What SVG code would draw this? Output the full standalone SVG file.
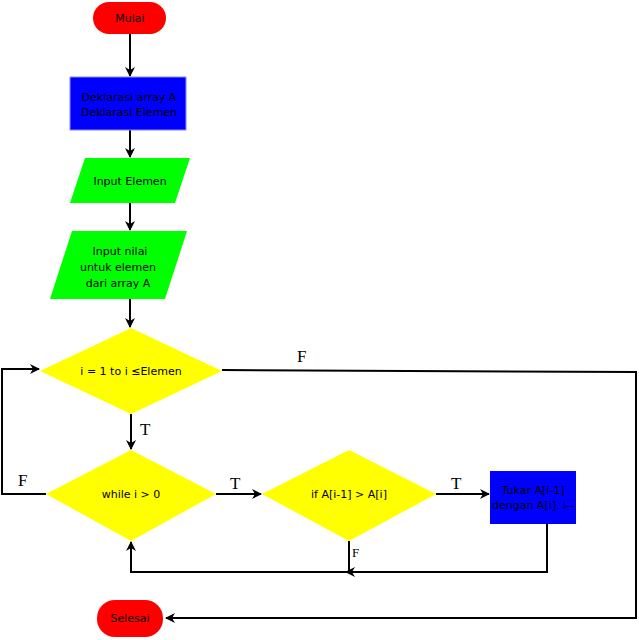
<svg xmlns="http://www.w3.org/2000/svg" width="639" height="640" viewBox="0 0 639 640">
<style>
.t{font-family:"DejaVu Sans",sans-serif;font-size:11px;text-anchor:middle;fill:#000}
.l{font-family:"Liberation Serif",serif;font-size:17px;fill:#000}
.c{fill:none;stroke:#000;stroke-width:2}
</style>
<defs><marker id="a" markerWidth="10" markerHeight="10" refX="9" refY="5" orient="auto" markerUnits="userSpaceOnUse"><path d="M0,0 L10,5 L0,10 L3,5 Z" fill="#000"/></marker></defs>
<rect width="639" height="640" fill="#fff"/>
<g id="connectors">
<path class="c" d="M130,34 V76" marker-end="url(#a)"/>
<path class="c" d="M130,130 V157" marker-end="url(#a)"/>
<path class="c" d="M130,203 V230" marker-end="url(#a)"/>
<path class="c" d="M130,299 V327" marker-end="url(#a)"/>
<path class="c" d="M131,414 V449" marker-end="url(#a)"/>
<path class="c" d="M216,494 H261" marker-end="url(#a)"/>
<path class="c" d="M436,494 H489" marker-end="url(#a)"/>
<path class="c" d="M349,541 V572"/>
<path class="c" d="M547,524 V572 H346" marker-end="url(#a)"/>
<path class="c" d="M346,572 H131 V542" marker-end="url(#a)"/>
<path class="c" d="M46,494 H2 V369 H39" marker-end="url(#a)"/>
<path class="c" d="M222,370 L636,372 V618 H166" marker-end="url(#a)"/>
<text class="l" x="140" y="435">T</text>
<text class="l" x="230" y="489">T</text>
<text class="l" x="451" y="489">T</text>
<text class="l" x="352" y="557" style="font-size:13px">F</text>
<text class="l" x="18" y="486">F</text>
<text class="l" x="297" y="362">F</text>
</g>
<g id="mulai"><rect x="93" y="2" width="73" height="32" rx="16" fill="#f00"/><text class="t" x="130" y="22">Mulai</text></g>
<g id="deklarasi"><rect x="70" y="77" width="116" height="53" fill="#00f" stroke="#88f"/><text class="t" x="129" y="101">Deklarasi array A</text><text class="t" x="129" y="116">Deklarasi Elemen</text></g>
<g id="input1"><polygon points="85,158 190,158 175,203 70,203" fill="#0f0"/><text class="t" x="130" y="185">Input Elemen</text></g>
<g id="input2"><polygon points="72,231 187,231 165,299 50,299" fill="#0f0"/><text class="t" x="120" y="255">Input nilai</text><text class="t" x="118" y="271">untuk elemen</text><text class="t" x="118" y="287">dari array A</text></g>
<g id="for"><polygon points="131,328 222,371 131,414 40,371" fill="#ff0"/><text class="t" x="131" y="375">i = 1 to i ≤Elemen</text></g>
<g id="while"><polygon points="131,450 216,494 131,541 46,494" fill="#ff0"/><text class="t" x="131" y="498">while i &gt; 0</text></g>
<g id="if"><polygon points="349,450 436,494 349,541 262,494" fill="#ff0"/><text class="t" x="349" y="498">if A[i-1] &gt; A[i]</text></g>
<g id="tukar"><rect x="490" y="471" width="86" height="53" fill="#00f"/><text class="t" x="533" y="494">Tukar A[i-1]</text><text class="t" x="533" y="509">dengan A[i]. i--</text></g>
<g id="selesai"><rect x="97" y="600" width="66" height="37" rx="18" fill="#f00"/><text class="t" x="130" y="622">Selesai</text></g>
</svg>
